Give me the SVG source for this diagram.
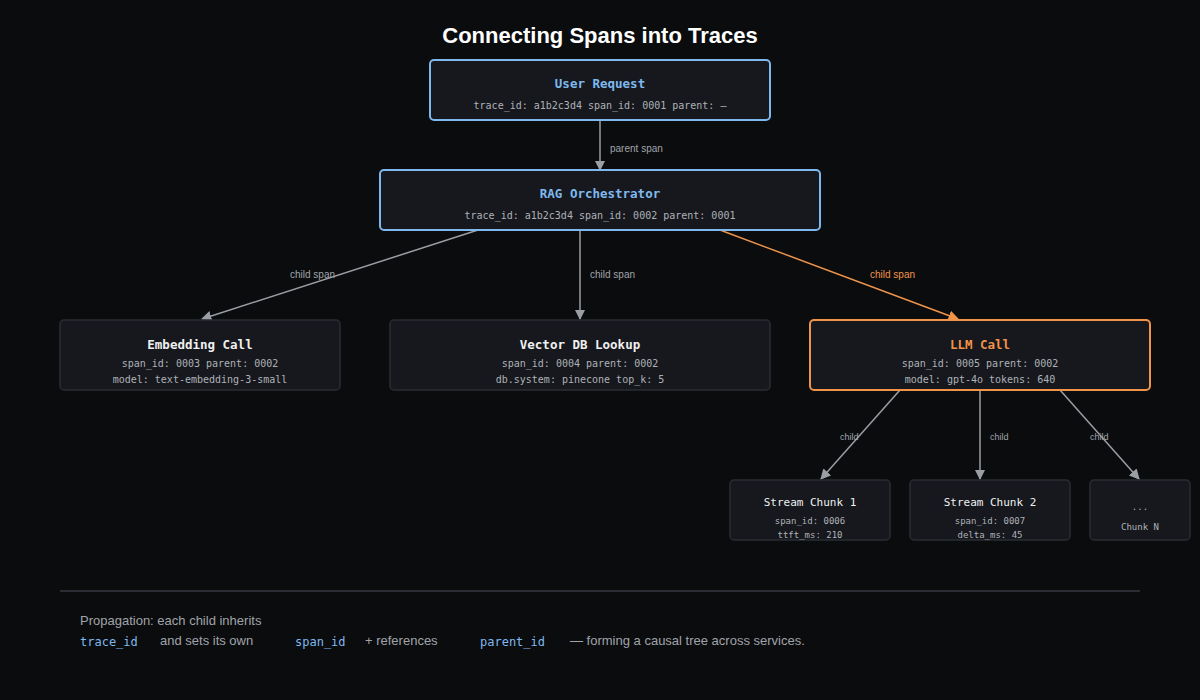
<svg xmlns="http://www.w3.org/2000/svg" width="1200" height="700" viewBox="0 0 1200 700">
<style>
.box{fill:#16181d;stroke:#2a2d33;stroke-width:1.5}
.blue{fill:#16181d;stroke:#7fb8ee;stroke-width:2}
.orange{fill:#16181d;stroke:#f0944a;stroke-width:2}
.t{font-family:"DejaVu Sans Mono","Liberation Mono",monospace;font-weight:bold;font-size:12.5px;text-anchor:middle;fill:#f0f0f0}
.s{font-family:"DejaVu Sans Mono","Liberation Mono",monospace;font-size:10px;text-anchor:middle;fill:#aeb2b8}
.ss{font-family:"DejaVu Sans Mono","Liberation Mono",monospace;font-size:9px;text-anchor:middle;fill:#aeb2b8}
.l{font-family:"Liberation Sans",Arial,sans-serif;font-size:10px;fill:#a0a4aa}
.e{stroke:#9a9ea5;stroke-width:1.5;fill:none;marker-end:url(#ag)}
.f{font-family:"Liberation Sans",Arial,sans-serif;font-size:13px;fill:#a0a4aa}
.c{font-family:"DejaVu Sans Mono","Liberation Mono",monospace;font-size:12px;fill:#7fb8ee}
</style>
<defs>
<marker id="ag" viewBox="0 0 10 10" refX="9" refY="5" markerWidth="7" markerHeight="7" orient="auto"><path d="M0,0L10,5L0,10z" fill="#9a9ea5"/></marker>
<marker id="ao" viewBox="0 0 10 10" refX="9" refY="5" markerWidth="7" markerHeight="7" orient="auto"><path d="M0,0L10,5L0,10z" fill="#f0944a"/></marker>
</defs>
<rect width="1200" height="700" fill="#0b0c0e"/>
<text x="600" y="43" text-anchor="middle" font-family="Liberation Sans,Arial,sans-serif" font-weight="bold" font-size="22" fill="#ffffff">Connecting Spans into Traces</text>
<g id="connectors">
<line class="e" x1="600" y1="120" x2="600" y2="170"/>
<text class="l" x="610" y="152">parent span</text>
<line class="e" x1="478" y1="230" x2="202" y2="319"/>
<text class="l" x="290" y="278">child span</text>
<line class="e" x1="580" y1="230" x2="580" y2="319"/>
<text class="l" x="590" y="278">child span</text>
<line x1="720" y1="230" x2="958" y2="319" stroke="#f0944a" stroke-width="1.5" marker-end="url(#ao)"/>
<text class="l" x="870" y="278" fill="#f0944a" style="fill:#f0944a">child span</text>
<line class="e" x1="900" y1="390" x2="821" y2="479"/>
<text class="l" x="840" y="440" style="font-size:9px">child</text>
<line class="e" x1="980" y1="390" x2="980" y2="479"/>
<text class="l" x="990" y="440" style="font-size:9px">child</text>
<line class="e" x1="1060" y1="390" x2="1139" y2="479"/>
<text class="l" x="1090" y="440" style="font-size:9px">child</text>
</g>
<g id="user"><rect class="blue" x="430" y="60" width="340" height="60" rx="4"/>
<text class="t" x="600" y="88" fill="#7fb8ee" style="fill:#7fb8ee">User Request</text>
<text class="s" x="600" y="109">trace_id: a1b2c3d4 span_id: 0001 parent: —</text></g>
<g id="rag"><rect class="blue" x="380" y="170" width="440" height="60" rx="4"/>
<text class="t" x="600" y="198" style="fill:#7fb8ee">RAG Orchestrator</text>
<text class="s" x="600" y="219">trace_id: a1b2c3d4 span_id: 0002 parent: 0001</text></g>
<g id="embed"><rect class="box" x="60" y="320" width="280" height="70" rx="4"/>
<text class="t" x="200" y="349">Embedding Call</text>
<text class="s" x="200" y="367">span_id: 0003 parent: 0002</text>
<text class="s" x="200" y="383">model: text-embedding-3-small</text></g>
<g id="vector"><rect class="box" x="390" y="320" width="380" height="70" rx="4"/>
<text class="t" x="580" y="349">Vector DB Lookup</text>
<text class="s" x="580" y="367">span_id: 0004 parent: 0002</text>
<text class="s" x="580" y="383">db.system: pinecone top_k: 5</text></g>
<g id="llm"><rect class="orange" x="810" y="320" width="340" height="70" rx="4"/>
<text class="t" x="980" y="349" style="fill:#f0944a">LLM Call</text>
<text class="s" x="980" y="367">span_id: 0005 parent: 0002</text>
<text class="s" x="980" y="383">model: gpt-4o tokens: 640</text></g>
<g id="chunk1"><rect class="box" x="730" y="480" width="160" height="60" rx="4"/>
<text class="t" x="810" y="506" style="font-weight:normal;font-size:11px">Stream Chunk 1</text>
<text class="ss" x="810" y="524">span_id: 0006</text>
<text class="ss" x="810" y="538">ttft_ms: 210</text></g>
<g id="chunk2"><rect class="box" x="910" y="480" width="160" height="60" rx="4"/>
<text class="t" x="990" y="506" style="font-weight:normal;font-size:11px">Stream Chunk 2</text>
<text class="ss" x="990" y="524">span_id: 0007</text>
<text class="ss" x="990" y="538">delta_ms: 45</text></g>
<g id="chunkn"><rect class="box" x="1090" y="480" width="100" height="60" rx="4"/>
<text class="ss" x="1140" y="510">...</text>
<text class="ss" x="1140" y="530">Chunk N</text></g>
<line x1="60" y1="591" x2="1140" y2="591" stroke="#2a2d33" stroke-width="2"/>
<text class="f" x="80" y="625">Propagation: each child inherits</text>
<text class="c" x="80" y="646">trace_id</text>
<text class="f" x="160" y="645">and sets its own</text>
<text class="c" x="295" y="646">span_id</text>
<text class="f" x="365" y="645">+ references</text>
<text class="c" x="480" y="646">parent_id</text>
<text class="f" x="570" y="645">— forming a causal tree across services.</text>
</svg>
